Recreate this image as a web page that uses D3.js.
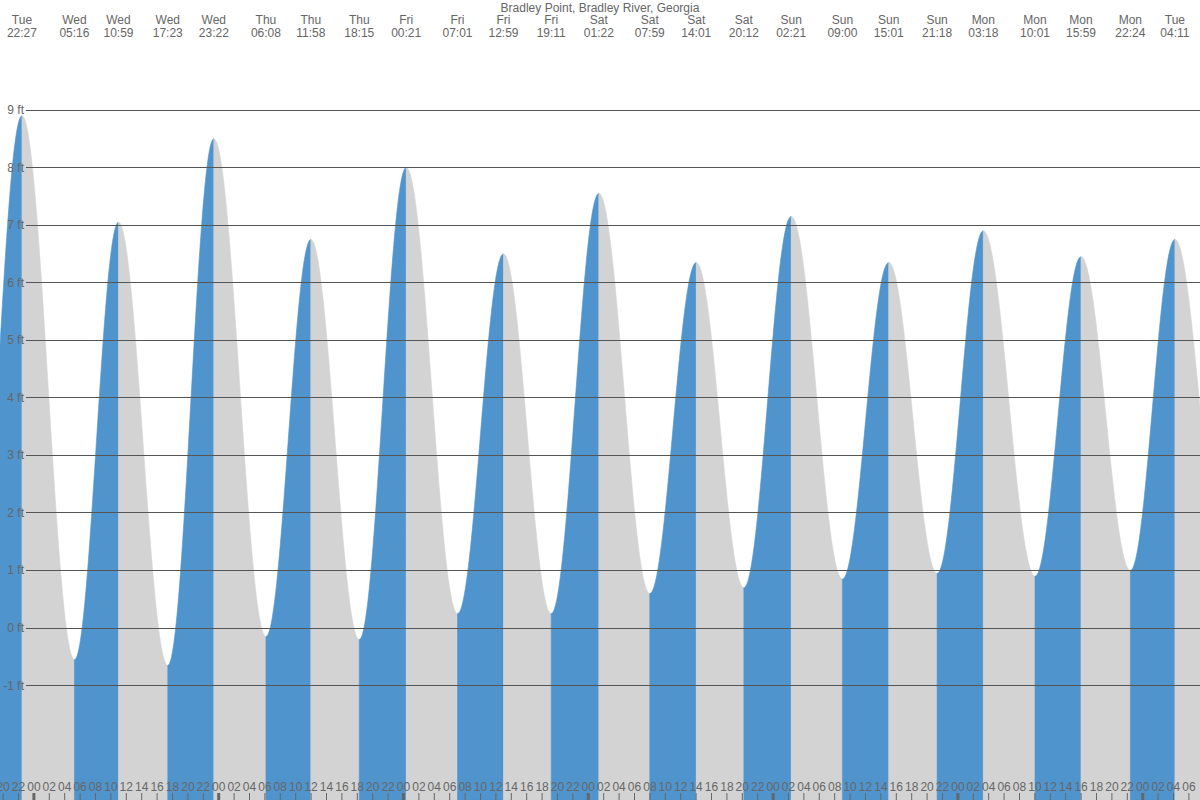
<!DOCTYPE html>
<html><head><meta charset="utf-8">
<script src="https://cdn.jsdelivr.net/npm/d3@7"></script>
<style>body{margin:0;background:#fff}text{font-family:"Liberation Sans",Arial,sans-serif;fill:#666}</style>
</head><body>
<script>
// tide extrema: day label, clock time, height in ft
var tideDays = ['Tue','Wed','Wed','Wed','Wed','Thu','Thu','Thu','Fri','Fri','Fri','Fri','Sat','Sat','Sat','Sat','Sun','Sun','Sun','Sun','Mon','Mon','Mon','Mon','Tue'];
var tideTimes = ['22:27','05:16','10:59','17:23','23:22','06:08','11:58','18:15','00:21','07:01','12:59','19:11','01:22','07:59','14:01','20:12','02:21','09:00','15:01','21:18','03:18','10:01','15:59','22:24','04:11'];
var tideHeights = [8.9,-0.55,7.05,-0.65,8.5,-0.15,6.75,-0.2,8.0,0.25,6.5,0.25,7.55,0.6,6.35,0.7,7.15,0.85,6.35,0.95,6.9,0.9,6.45,1.0,6.75];
// unlabeled extrema just outside the view
var edgeBefore = {day:'Tue', time:'16:10', h:-0.4};
var edgeAfter = {day:'Tue', time:'10:40', h:0.95};
var ftTicks = [9,8,7,6,5,4,3,2,1,0,-1];
var dayOffset = {Tue:-24, Wed:0, Thu:24, Fri:48, Sat:72, Sun:96, Mon:120};

function toHours(day, t, late) {
  var p = t.split(':');
  var off = (day === 'Tue' && late) ? 144 : dayOffset[day];
  return off + (+p[0]) + (+p[1]) / 60;
}
var events = tideDays.map(function (d, i) {
  return {day:d, time:tideTimes[i], h:tideHeights[i], t:toHours(d, tideTimes[i], i > 5)};
});
var all = [{t:toHours(edgeBefore.day, edgeBefore.time, false), h:edgeBefore.h}]
  .concat(events)
  .concat([{t:toHours(edgeAfter.day, edgeAfter.time, true), h:edgeAfter.h}]);

var W = 1200, H = 800;
var x = d3.scaleLinear().domain([0, 24]).range([33.9, 33.9 + 184.8]);
var y = d3.scaleLinear().domain([0, 9]).range([628, 110]);
var svg = d3.select('body').append('svg').attr('width', W).attr('height', H);

// fill each rise/fall segment with cosine curve
for (var i = 0; i < all.length - 1; i++) {
  var a = all[i], b = all[i + 1];
  var pts = [];
  for (var k = 0; k <= 60; k++) {
    var f = k / 60, t = a.t + (b.t - a.t) * f;
    var v = a.h + (b.h - a.h) * (1 - Math.cos(Math.PI * f)) / 2;
    pts.push([x(t), y(v)]);
  }
  var area = d3.area().x(function (d) { return d[0]; }).y0(H).y1(function (d) { return d[1]; });
  svg.append('path').attr('d', area(pts))
    .attr('fill', b.h > a.h ? '#4f94cd' : '#d3d3d3')
    .attr('stroke', b.h > a.h ? '#4f94cd' : '#d3d3d3').attr('stroke-width', 0.6);
}

// grid lines + labels
ftTicks.forEach(function (v) {
  svg.append('line').attr('x1', 26).attr('x2', W).attr('y1', y(v)).attr('y2', y(v))
    .attr('stroke', '#555').attr('stroke-width', 1).attr('shape-rendering', 'crispEdges');
  svg.append('text').attr('x', 24).attr('y', y(v) + 4).attr('text-anchor', 'end')
    .attr('font-size', 12).text(v + ' ft');
});

// hour axis
var hrs = d3.range(-4, 164, 2);
hrs.forEach(function (h) {
  var px = x(h);
  if (px < 0 || px > W) return;
  var hh = ((h % 24) + 24) % 24;
  svg.append('text').attr('x', px).attr('y', 791).attr('text-anchor', 'middle')
    .attr('font-size', 12).text(d3.format('02d')(hh));
  svg.append('line').attr('x1', px).attr('x2', px).attr('y1', 793).attr('y2', 800)
    .attr('stroke', '#666').attr('stroke-width', hh === 0 ? 3 : 1);
});

// title and extrema labels
svg.append('text').attr('x', 600).attr('y', 12).attr('text-anchor', 'middle')
  .attr('font-size', 12).text('Bradley Point, Bradley River, Georgia');
events.forEach(function (e) {
  var g = svg.append('text').attr('text-anchor', 'middle').attr('font-size', 12);
  g.append('tspan').attr('x', x(e.t)).attr('y', 24).text(e.day);
  g.append('tspan').attr('x', x(e.t)).attr('y', 37).text(e.time);
});
</script>
</body></html>
